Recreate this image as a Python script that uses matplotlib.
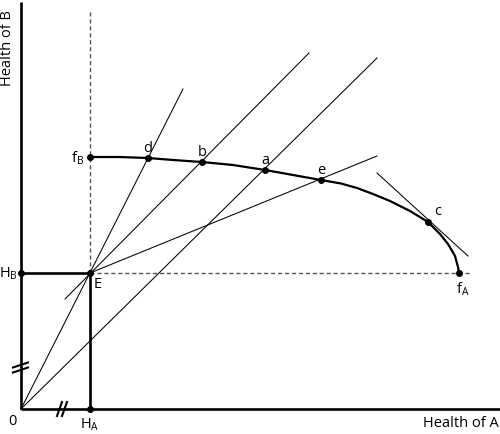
import matplotlib.pyplot as plt

# Coordinates (origin at the axes corner)
frontier_x = [69, 98, 127, 152, 181, 212, 244, 272, 300, 320, 336, 352, 369, 389, 407,
              419, 427, 434, 437, 438]
frontier_y = [252, 252, 251, 249, 247, 244, 239, 234, 229, 225.5, 221, 215, 208, 198, 187,
              175, 165, 153, 142, 136]

point_names = ['d', 'b', 'a', 'e', 'c']
point_x = [127, 181, 244, 300, 407]
point_y = [251, 247, 239, 229, 187]

E_x, E_y = 69, 136
fA = (438, 136)
fB = (69, 252)

# thin straight lines: (x0, y0, x1, y1)
ray_0d = (0, 0, 162, 320)
ray_0a = (0, 0, 356, 351)
line_Eb = (44, 110, 288, 356)
line_Ee = (69, 136, 356, 253)
tangent_c = (356, 236, 447, 153)

x_max, y_max = 479, 407


def main():
    plt.rcParams['font.family'] = 'Open Sans'
    fig = plt.figure(figsize=(5.0, 4.35), dpi=100)
    ax = fig.add_axes([0, 0, 1, 1])
    ax.set_xlim(-21, 479)
    ax.set_ylim(-25, 410)
    ax.axis('off')

    # axes
    ax.plot([0, 0], [0, y_max], color='black', lw=1.9, solid_capstyle='butt')
    ax.plot([0, x_max], [0, 0], color='black', lw=1.9, solid_capstyle='butt')

    # axis breaks
    for yb in (44, 39):
        ax.plot([-8, 7], [yb - 2.5, yb + 2.5], color='black', lw=1.5)
    for xb in (36, 41):
        ax.plot([xb, xb + 5], [-7, 7], color='black', lw=1.5)

    # dashed guides
    ax.plot([E_x, E_x], [E_y, 400], color='#555555', lw=1.0, ls=(0, (3, 2)))
    ax.plot([E_x, 450], [E_y, E_y], color='#555555', lw=1.0, ls=(0, (3, 2)))

    # endowment box
    ax.plot([0, E_x], [E_y, E_y], color='black', lw=1.9)
    ax.plot([E_x, E_x], [0, E_y], color='black', lw=1.9)

    # thin lines
    for x0, y0, x1, y1 in (ray_0d, ray_0a, line_Eb, line_Ee, tangent_c):
        ax.plot([x0, x1], [y0, y1], color='black', lw=0.75)

    # frontier
    ax.plot(frontier_x, frontier_y, color='black', lw=1.6,
            solid_joinstyle='round', solid_capstyle='round')

    # dots
    dots_x = point_x + [E_x, fA[0], fB[0], 0, E_x]
    dots_y = point_y + [E_y, fA[1], fB[1], E_y, 0]
    ax.scatter(dots_x, dots_y, s=16, color='black', zorder=5)

    # labels
    fs = 10.5
    for name, px, py in zip(point_names, point_x, point_y):
        if name == 'c':
            ax.text(px + 6, py + 4, name, fontsize=fs, ha='left', va='bottom')
        else:
            ax.text(px, py + 3, name, fontsize=fs, ha='center', va='bottom')
    ax.text(E_x + 4, E_y - 3, 'E', fontsize=fs, ha='left', va='top')
    ax.text(fB[0] - 6, fB[1], r'f$_\mathregular{B}$', fontsize=fs, ha='right', va='center')
    ax.text(fA[0] + 4, fA[1] - 6, r'f$_\mathregular{A}$', fontsize=fs, ha='center', va='top')
    ax.text(-3, E_y, r'H$_\mathregular{B}$', fontsize=fs, ha='right', va='center')
    ax.text(E_x, -6, r'H$_\mathregular{A}$', fontsize=fs, ha='center', va='top')
    ax.text(-9, -4, '0', fontsize=fs, ha='center', va='top')
    ax.text(478, -6, 'Health of A', fontsize=fs, ha='right', va='top')
    ax.text(-13, 362, 'Health of B', fontsize=fs, ha='center', va='center', rotation=90)

    fig.savefig('out.png', dpi=100)
    plt.close(fig)


if __name__ == "__main__":
    main()
